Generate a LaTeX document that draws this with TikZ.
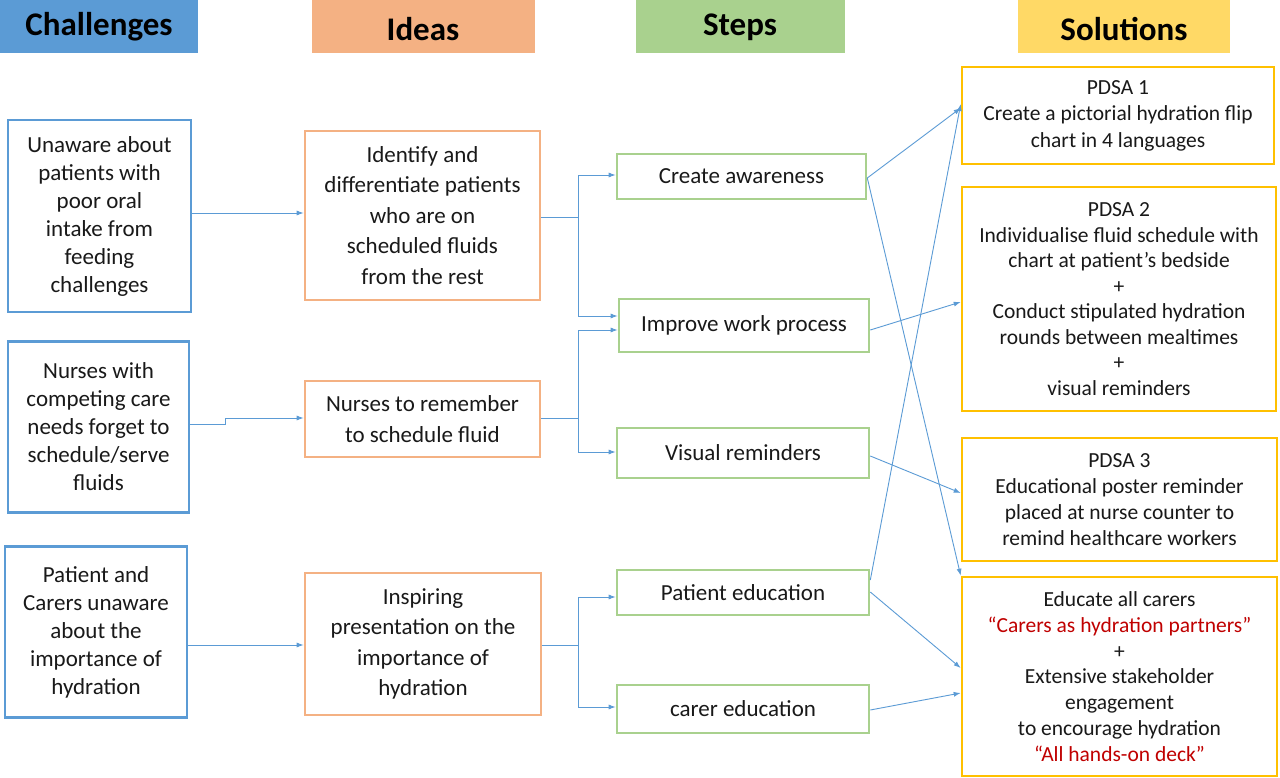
\documentclass[tikz,border=0pt]{standalone}
\usepackage{fontspec}
\setmainfont{Carlito}
\usetikzlibrary{arrows.meta}
\definecolor{cb}{RGB}{91,155,213}
\definecolor{co}{RGB}{244,177,131}
\definecolor{cg}{RGB}{169,209,142}
\definecolor{cy}{RGB}{255,217,102}
\definecolor{cyb}{RGB}{255,192,0}
\definecolor{cr}{RGB}{192,0,0}
\begin{document}
\begin{tikzpicture}[x=1pt,y=-1pt,
 hd/.style={font=\fontsize{33}{36}\selectfont\bfseries,text=black,inner sep=0},
 bx/.style={draw,line width=2.6pt,align=center,font=\fontsize{23}{28}\selectfont,text=black!90,inner sep=0},
 ar/.style={cb,line width=0.9pt,-{Latex[length=7pt,width=5pt]}},
 ln/.style={cb,line width=0.9pt}]
\useasboundingbox[fill=white] (0,0) rectangle (1280,778);
\fill[cb] (0,0) rectangle (198,53); \node[hd] (h1) at (99,27) {Challenges};
\fill[co] (312,0) rectangle (535,53); \node[hd] (h2) at (423,29) {Ideas};
\fill[cg] (636,0) rectangle (845,53); \node[hd] (h3) at (740,27) {Steps};
\fill[cy] (1018,0) rectangle (1230,53); \node[hd] (h4) at (1124,29) {Solutions};
% challenges
\node[bx,draw=cb,minimum width=183,minimum height=192] (c1) at (99.5,216) {Unaware about\\patients with\\poor oral\\intake from\\feeding\\challenges};
\node[bx,draw=cb,minimum width=181,minimum height=171] (c2) at (98.5,427) {Nurses with\\competing care\\needs forget to\\schedule/serve\\fluids};
\node[bx,draw=cb,minimum width=182,minimum height=171] (c3) at (96,632) {Patient and\\Carers unaware\\about the\\importance of\\hydration};
% ideas
\node[bx,draw=co,minimum width=235,minimum height=169,font=\fontsize{23}{30.5}\selectfont] (i1) at (422.5,215.5) {Identify and\\differentiate patients\\who are on\\scheduled fluids\\from the rest};
\node[bx,draw=co,minimum width=235,minimum height=76,font=\fontsize{23}{31}\selectfont] (i2) at (422.5,419) {Nurses to remember\\to schedule fluid};
\node[bx,draw=co,minimum width=236,minimum height=142,font=\fontsize{23}{30.5}\selectfont] (i3) at (423,644) {Inspiring\\presentation on the\\importance of\\hydration};
% steps
\node[bx,draw=cg,minimum width=249,minimum height=45] (s1) at (741.5,176.5) {Create awareness};
\node[bx,draw=cg,minimum width=250,minimum height=53] (s2) at (744,325.5) {Improve work process};
\node[bx,draw=cg,minimum width=252,minimum height=50] (s3) at (743,453) {Visual reminders};
\node[bx,draw=cg,minimum width=252,minimum height=45] (s4) at (743,592.5) {Patient education};
\node[bx,draw=cg,minimum width=252,minimum height=48] (s5) at (743,709) {carer education};
% solutions
\node[bx,draw=cyb,minimum width=312,minimum height=97,font=\fontsize{21.5}{26.5}\selectfont] (p1) at (1118,115.5) {PDSA 1\\Create a pictorial hydration flip\\chart in 4 languages};
\node[bx,draw=cyb,minimum width=314,minimum height=224,font=\fontsize{21.5}{25.5}\selectfont] (p2) at (1119,299) {PDSA 2\\Individualise fluid schedule with\\chart at patient’s bedside\\+\\Conduct stipulated hydration\\rounds between mealtimes\\+\\visual reminders};
\node[bx,draw=cyb,minimum width=315,minimum height=123,font=\fontsize{21.5}{26}\selectfont] (p3) at (1119.5,499.5) {PDSA 3\\Educational poster reminder\\placed at nurse counter to\\remind healthcare workers};
\node[bx,draw=cyb,minimum width=315,minimum height=199,font=\fontsize{21.5}{25.8}\selectfont] (p4) at (1119.5,676.5) {Educate all carers\\\textcolor{cr}{“Carers as hydration partners”}\\+\\Extensive stakeholder\\engagement\\to encourage hydration\\\textcolor{cr}{“All hands-on deck”}};
% connectors
\coordinate (k1) at (225,424); \coordinate (k2) at (225,418);
\draw[ar] (c1.east|-0,213) -- (i1.west|-0,213);
\draw[ar] (c2.east|-0,424) -- (k1) -- (k2) -- (i2.west|-0,418);
\draw[ar] (c3.east|-0,645) -- (i3.west|-0,645);
\coordinate (a1) at (578,217); \coordinate (a2) at (578,418); \coordinate (a3) at (578,645);
\draw[ln] (i1.east|-a1) -- (a1); \draw[ln] (i2.east|-a2) -- (a2); \draw[ln] (i3.east|-a3) -- (a3);
\draw[ar] (a1) |- (s1.west|-0,175);
\draw[ar] (a1) |- (s2.west|-0,316);
\draw[ar] (a2) |- (s2.west|-0,330);
\draw[ar] (a2) |- (s3.west|-0,452);
\draw[ar] (a3) |- (s4.west|-0,597);
\draw[ar] (a3) |- (s5.west|-0,707);
\draw[ar] (s1.east|-0,178) -- (p1.west|-0,108);
\draw[ar] (s1.east|-0,178) -- (p4.north west);
\draw[ar] (s2.east|-0,330) -- (p2.west|-0,302);
\draw[ar] (s3.east|-0,456) -- (p3.west|-0,493);
\draw[ar] (s4.east|-0,580) -- (p1.west|-0,104);
\draw[ar] (s4.east|-0,592) -- (p4.west|-0,668);
\draw[ar] (s5.east|-0,710) -- (p4.west|-0,693);
\end{tikzpicture}
\end{document}
